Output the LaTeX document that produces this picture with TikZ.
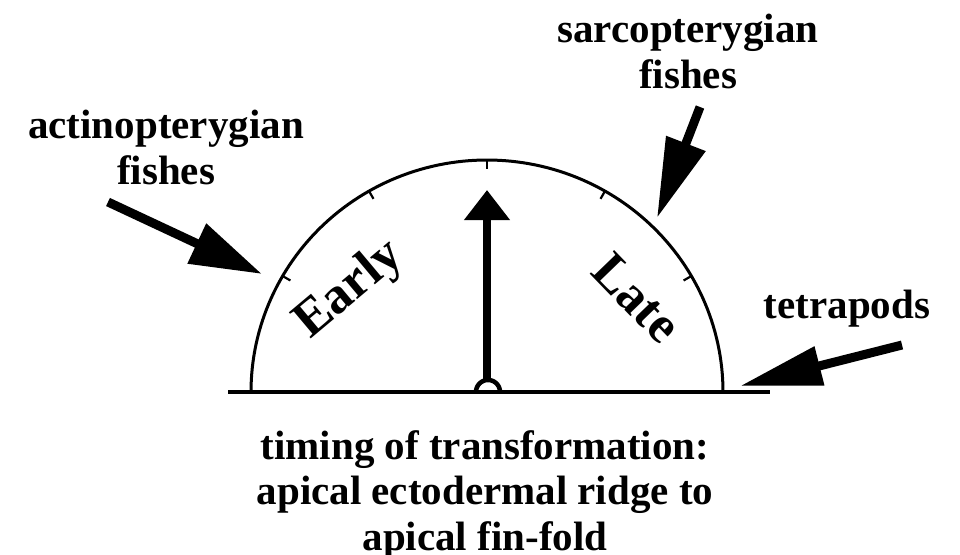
\documentclass[tikz,border=0pt]{standalone}
\usepackage{fontspec}
\setmainfont{Liberation Serif}
\usetikzlibrary{arrows.meta}
\begin{document}
\begin{tikzpicture}[x=1pt,y=-1pt,
  lbl/.style={font=\fontsize{41}{45.5}\selectfont\bfseries, inner sep=0pt, align=center},
  dialword/.style={font=\fontsize{52}{55}\selectfont\bfseries, inner sep=0pt},
  fatarrow/.style={line width=9pt, -{Triangle[length=72pt,width=42pt]}},
  dialline/.style={line width=3pt},
]
\useasboundingbox (0,0) rectangle (960,554);
% dial
\coordinate (ctr) at (487,392);
\draw[dialline] plot[domain=0:180, samples=121] ({487+236*cos(\x)},{392-232*sin(\x)});
\foreach \a in {0,30,...,180}{
  \draw[line width=2.2pt] ({487+236*cos(\a)},{392-232*sin(\a)}) -- ({487+227*cos(\a)},{392-223*sin(\a)});
}
% pivot and needle
\coordinate (needletop) at (487,190);
\draw[line width=8pt, -{Triangle[length=30pt,width=44pt]}] (487,382) -- (needletop);
\draw[line width=4.5pt, fill=white] plot[domain=0:180, samples=31] ({488+12*cos(\x)},{392-12*sin(\x)});
% baseline
\coordinate (bl) at (228,392);
\coordinate (br) at (770,392);
\draw[line width=4pt] (bl) -- (br);
% dial words
\node[dialword, rotate=40] (early) at (350,290) {Early};
\node[dialword, rotate=-46] (late) at (637,298) {Late};
% labels (anchor base = baseline of the last line)
\node[lbl, anchor=base] (actino) at (166,184) {actinopterygian\\fishes};
\node[lbl, anchor=base] (sarco) at (688,88) {sarcopterygian\\fishes};
\node[lbl, anchor=base] (tetra) at (847,318) {tetrapods};
\node[lbl, anchor=base] (caption) at (485,550) {timing of transformation:\\apical ectodermal ridge to\\apical fin-fold};
% pointer arrows
\coordinate (actail) at (108,202);
\coordinate (actip) at (262,274);
\draw[fatarrow] (actail) -- (actip);
\coordinate (satail) at (700,107);
\coordinate (satip) at (657,218);
\draw[line width=9pt, -{Triangle[length=80pt,width=40pt]}] (satail) -- (satip);
\coordinate (tetail) at (902,345);
\coordinate (tetip) at (740,386);
\draw[line width=9pt, -{Triangle[length=82pt,width=38pt]}] (tetail) -- (tetip);
\end{tikzpicture}
\end{document}
